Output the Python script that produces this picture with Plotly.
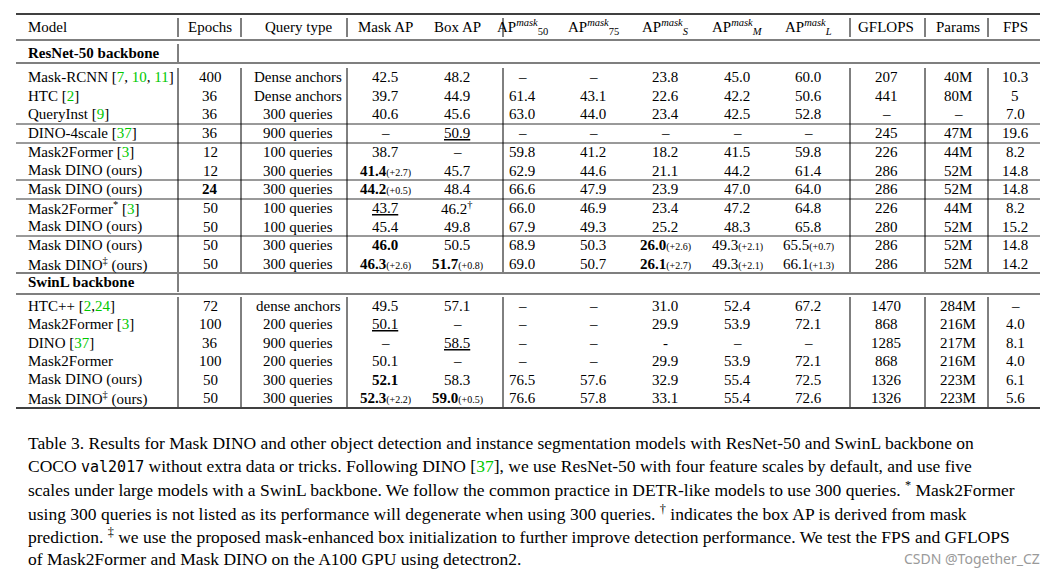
import plotly.graph_objects as go

G = "<span style='color:#00c800'>{}</span>"
def sm(s):
    return "<span style='font-size:10px'>" + s + "</span>"

headers = ["Model", "Epochs", "Query type", "Mask AP", "Box AP",
           "AP<sup><i>mask</i></sup><sub>50</sub>", "AP<sup><i>mask</i></sup><sub>75</sub>",
           "AP<sup><i>mask</i></sup><sub><i>S</i></sub>", "AP<sup><i>mask</i></sup><sub><i>M</i></sub>",
           "AP<sup><i>mask</i></sup><sub><i>L</i></sub>", "GFLOPS", "Params", "FPS"]

# ResNet-50 section
r50_model = ["Mask-RCNN [" + G.format("7") + ", " + G.format("10") + ", " + G.format("11") + "]",
             "HTC [" + G.format("2") + "]", "QueryInst [" + G.format("9") + "]",
             "DINO-4scale [" + G.format("37") + "]", "Mask2Former [" + G.format("3") + "]",
             "Mask DINO (ours)", "Mask DINO (ours)", "Mask2Former<sup>*</sup> [" + G.format("3") + "]",
             "Mask DINO (ours)", "Mask DINO (ours)", "Mask DINO<sup>‡</sup> (ours)"]
r50_epochs = ["400", "36", "36", "36", "12", "12", "<b>24</b>", "50", "50", "50", "50"]
r50_query = ["Dense anchors", "Dense anchors", "300 queries", "900 queries", "100 queries",
             "300 queries", "300 queries", "100 queries", "100 queries", "300 queries", "300 queries"]
r50_mask = ["42.5", "39.7", "40.6", "–", "38.7", "<b>41.4</b>" + sm("(+2.7)"),
            "<b>44.2</b>" + sm("(+0.5)"), "<u>43.7</u>", "45.4", "<b>46.0</b>", "<b>46.3</b>" + sm("(+2.6)")]
r50_box = ["48.2", "44.9", "45.6", "<u>50.9</u>", "–", "45.7", "48.4", "46.2<sup>†</sup>",
           "49.8", "50.5", "<b>51.7</b>" + sm("(+0.8)")]
r50_ap50 = ["–", "61.4", "63.0", "–", "59.8", "62.9", "66.6", "66.0", "67.9", "68.9", "69.0"]
r50_ap75 = ["–", "43.1", "44.0", "–", "41.2", "44.6", "47.9", "46.9", "49.3", "50.3", "50.7"]
r50_aps = ["23.8", "22.6", "23.4", "–", "18.2", "21.1", "23.9", "23.4", "25.2",
           "<b>26.0</b>" + sm("(+2.6)"), "<b>26.1</b>" + sm("(+2.7)")]
r50_apm = ["45.0", "42.2", "42.5", "–", "41.5", "44.2", "47.0", "47.2", "48.3",
           "49.3" + sm("(+2.1)"), "49.3" + sm("(+2.1)")]
r50_apl = ["60.0", "50.6", "52.8", "–", "59.8", "61.4", "64.0", "64.8", "65.8",
           "65.5" + sm("(+0.7)"), "66.1" + sm("(+1.3)")]
r50_gflops = ["207", "441", "–", "245", "226", "286", "286", "226", "280", "286", "286"]
r50_params = ["40M", "80M", "–", "47M", "44M", "52M", "52M", "44M", "52M", "52M", "52M"]
r50_fps = ["10.3", "5", "7.0", "19.6", "8.2", "14.8", "14.8", "8.2", "15.2", "14.8", "14.2"]

# SwinL section
sw_model = ["HTC++ [" + G.format("2") + "," + G.format("24") + "]", "Mask2Former [" + G.format("3") + "]",
            "DINO [" + G.format("37") + "]", "Mask2Former", "Mask DINO (ours)", "Mask DINO<sup>‡</sup> (ours)"]
sw_epochs = ["72", "100", "36", "100", "50", "50"]
sw_query = ["dense anchors", "200 queries", "900 queries", "200 queries", "300 queries", "300 queries"]
sw_mask = ["49.5", "<u>50.1</u>", "–", "50.1", "<b>52.1</b>", "<b>52.3</b>" + sm("(+2.2)")]
sw_box = ["57.1", "–", "<u>58.5</u>", "–", "58.3", "<b>59.0</b>" + sm("(+0.5)")]
sw_ap50 = ["–", "–", "–", "–", "76.5", "76.6"]
sw_ap75 = ["–", "–", "–", "–", "57.6", "57.8"]
sw_aps = ["31.0", "29.9", "-", "29.9", "32.9", "33.1"]
sw_apm = ["52.4", "53.9", "–", "53.9", "55.4", "55.4"]
sw_apl = ["67.2", "72.1", "–", "72.1", "72.5", "72.6"]
sw_gflops = ["1470", "868", "1285", "868", "1326", "1326"]
sw_params = ["284M", "216M", "217M", "216M", "223M", "223M"]
sw_fps = ["–", "4.0", "8.1", "4.0", "6.1", "5.6"]

caption = [
    "Table 3. Results for Mask DINO and other object detection and instance segmentation models with ResNet-50 and SwinL backbone on",
    "COCO <span style='font-family:DejaVu Sans Mono;font-size:15px'>val2017</span> without extra data or tricks. Following DINO [" + G.format("37") + "], we use ResNet-50 with four feature scales by default, and use five",
    "scales under large models with a SwinL backbone. We follow the common practice in DETR-like models to use 300 queries. <sup>*</sup> Mask2Former",
    "using 300 queries is not listed as its performance will degenerate when using 300 queries. <sup>†</sup> indicates the box AP is derived from mask",
    "prediction. <sup>‡</sup> we use the proposed mask-enhanced box initialization to further improve detection performance. We test the FPS and GFLOPS",
    "of Mask2Former and Mask DINO on the A100 GPU using detectron2.",
]

col_x = [26, 210, 298, 385, 457, 522, 593, 665, 737, 808, 886, 958, 1015]
vlines = [178, 241, 347, 503, 850, 925, 988]
FONT = "Liberation Serif, Times New Roman, serif"

fig = go.Figure()
ann = []
shapes = []

def text(x, y, s, left=False, size=15):
    ann.append(dict(x=x, y=y, text=s, showarrow=False, xref="x", yref="y",
                    xanchor="left" if left else "center", yanchor="middle",
                    font=dict(family=FONT, size=size, color="black")))

def hline(y, w=1.2, x0=16, x1=1040):
    shapes.append(dict(type="line", x0=x0, x1=x1, y0=y, y1=y, xref="x", yref="y",
                       line=dict(color="black", width=w)))

def vline(x, y0, y1):
    shapes.append(dict(type="line", x0=x, x1=x, y0=y0, y1=y1, xref="x", yref="y",
                       line=dict(color="black", width=1)))

def section(cols, y0, pitch):
    n = len(cols[0])
    for i in range(n):
        y = y0 + i * pitch
        for j, c in enumerate(cols):
            text(col_x[j], y, c[i], left=(j == 0))

# header
for j, h in enumerate(headers):
    text(col_x[j], 27, h, left=(j == 0))
for x in vlines:
    vline(x, 18, 37)
hline(14, 1.5)
hline(40, 1.2)

# ResNet section
text(col_x[0], 53, "<b>ResNet-50 backbone</b>", left=True)
vline(178, 44, 62)
hline(63, 1.2)
section([r50_model, r50_epochs, r50_query, r50_mask, r50_box, r50_ap50, r50_ap75,
         r50_aps, r50_apm, r50_apl, r50_gflops, r50_params, r50_fps], 77, 18.7)
for y in [124, 143, 180, 199, 236]:
    hline(y, 0.8)
for x in vlines:
    vline(x, 68, 272)
hline(273, 1.2)

# SwinL section
text(col_x[0], 282, "<b>SwinL backbone</b>", left=True)
vline(178, 274, 292)
hline(294, 1.2)
section([sw_model, sw_epochs, sw_query, sw_mask, sw_box, sw_ap50, sw_ap75,
         sw_aps, sw_apm, sw_apl, sw_gflops, sw_params, sw_fps], 306, 18.4)
for x in vlines:
    vline(x, 297, 407)
hline(408, 1.5)

for i, line in enumerate(caption):
    text(26, 443 + i * 23.2, line, left=True, size=17.5)

ann.append(dict(x=1042, y=558, text="CSDN @Together_CZ", showarrow=False, xref="x", yref="y",
                xanchor="right", yanchor="middle",
                font=dict(family="Noto Sans", size=14, color="#9a9a9a")))

# page has an 8px body margin, so shift the coordinate window by 8px
fig.update_layout(width=1048, height=578, margin=dict(l=0, r=0, t=0, b=0),
                  plot_bgcolor="white", paper_bgcolor="white",
                  xaxis=dict(range=[8, 1056], visible=False, fixedrange=True),
                  yaxis=dict(range=[586, 8], visible=False, fixedrange=True),
                  annotations=ann, shapes=shapes, showlegend=False)
fig.write_html("out.html")
